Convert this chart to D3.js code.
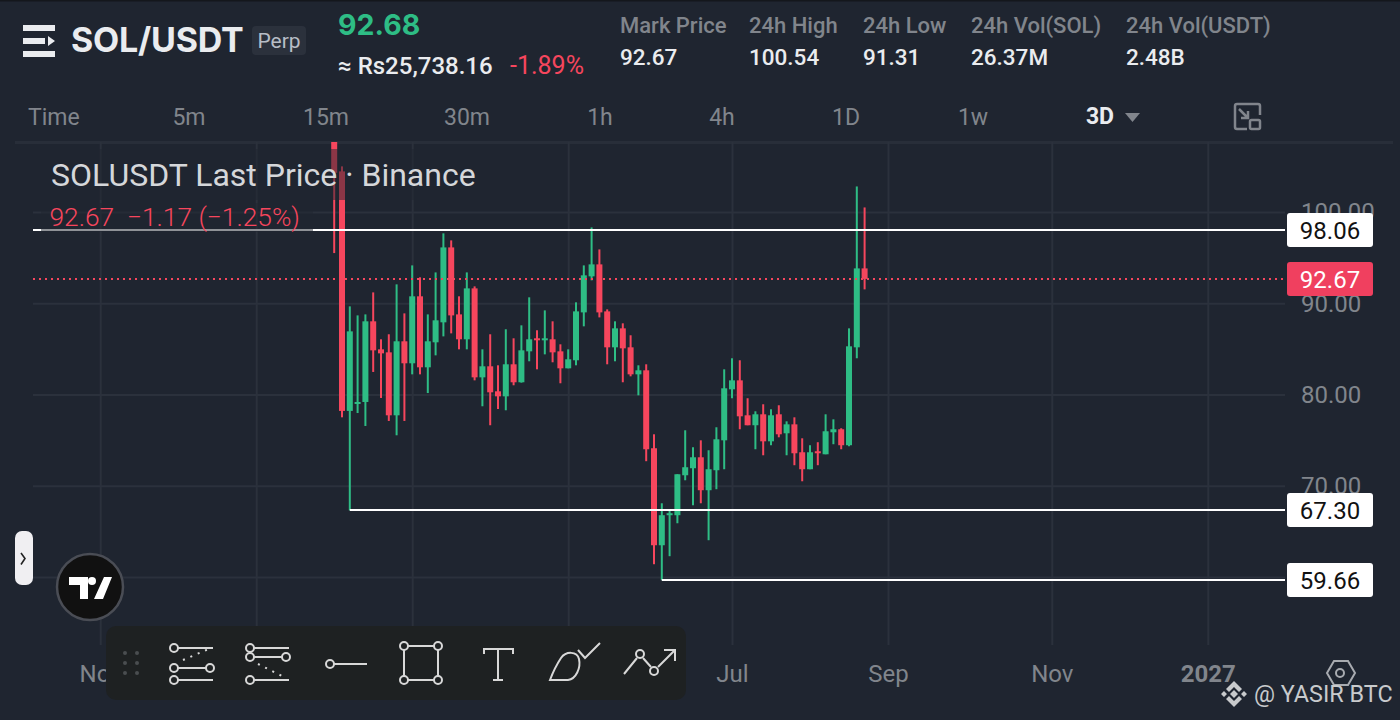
<!DOCTYPE html>
<html><head><meta charset="UTF-8"><title>SOL/USDT</title>
<script src="https://cdn.jsdelivr.net/npm/d3@7"></script>
<style>
	html,body { margin:0; padding:0; background:#1f2530; overflow:hidden; }
	svg { display:block; font-family:Roboto,"Noto Sans",sans-serif; }
	.grid line { stroke:#2b313c; stroke-width:2; }
	.grid path { display:none; }
	.yaxis text, .xaxis text { fill:#81858c; font-size:24px; font-family:Roboto,sans-serif; }
	.yaxis path, .yaxis line, .xaxis path, .xaxis line { display:none; }
</style>
</head><body>
<svg id="chart" width="1400" height="720"></svg>
<script>
// 3D candles. bar 0 is the first full candle, bar -1 runs off the top
var firstBar=-1;
var opens =[109,104.45,78.2,79.18,79.18,88.02,84.95,84.62,77.72,85.83,83.42,90.76,82.98,85.72,87.91,96.12,88.78,86.05,91.63,81.88,83.09,80.35,79.8,83.31,81.34,84.73,86.16,85.94,86.05,84.73,82.87,83.75,89.0,92.95,94.26,89.11,85.17,87.25,85.17,82.21,82.65,74.11,63.48,66.77,66.77,71.15,71.92,73.12,69.51,71.7,74.98,80.57,81.55,77.72,76.63,77.83,74.87,77.83,75.75,76.73,73.67,71.81,73.78,73.45,75.86,76.19,74.44,85.17,93.82];
var highs =[112,105.0,89.66,88.67,88.78,91.19,86.05,86.6,92.07,88.89,94.15,92.84,88.78,93.38,97.66,96.89,90.76,93.38,91.85,84.95,86.6,83.2,87.15,86.16,87.58,90.65,87.04,89.22,88.02,85.5,84.95,90.1,94.15,98.31,95.9,89.33,88.02,87.8,86.49,83.2,83.31,75.64,68.08,67.43,71.26,76.08,74.22,74.98,73.89,76.41,82.76,83.97,83.75,79.59,78.16,78.93,78.38,78.82,77.06,77.5,75.2,74.44,74.77,77.83,77.28,76.3,87.25,102.8,100.5];
var lows  =[95.5,77.5,67.3,77.97,76.55,82.47,79.62,77.1,75.53,77.1,82.21,82.21,80.16,84.29,86.37,86.7,84.95,84.95,81.55,78.71,76.63,78.41,78.27,81.01,81.3,83.64,82.76,84.4,83.53,81.23,82.87,83.2,87.47,92.51,88.45,83.31,83.64,81.34,81.99,79.91,72.69,61.4,59.66,62.28,65.89,70.6,67.86,68.08,64.03,69.62,71.81,79.59,76.19,76.63,74.0,73.34,74.44,75.31,73.34,72.25,70.49,71.81,72.25,73.45,74.55,74.0,74.33,83.97,91.52];
var closes=[104.3,78.2,86.92,79.18,88.02,84.84,84.51,77.72,85.83,83.42,90.76,82.98,85.83,88.13,96.12,88.67,86.05,91.63,81.88,83.09,80.24,79.8,83.31,81.34,84.84,86.05,85.94,86.16,84.62,82.87,83.86,89.11,93.06,94.26,89.0,85.17,87.25,85.06,82.21,82.65,74.0,63.48,66.77,66.99,71.26,72.03,73.12,69.51,71.81,75.09,80.68,81.55,77.61,76.63,77.83,74.87,77.72,75.64,76.73,73.56,71.81,73.67,73.56,75.97,76.19,74.44,85.28,93.82,92.67];

// axes
var priceTicks=[100,90,80,70,60];
var monthBars=[-31,-11,9,29,50,70,91,111];
var monthLabels=['Nov','2026','Mar','May','Jul','Sep','Nov','2027'];

// drawn levels and the last price tag
var levelValues=[98.06,67.30,59.66];
var levelStartBars=[-40,1,41];
var lastPrice=92.67;

// header
var statNames=['Mark Price','24h High','24h Low','24h Vol(SOL)','24h Vol(USDT)'];
var statValues=['92.67','100.54','91.31','26.37M','2.48B'];
var statLefts=[620,749,863,971,1126];
var tabNames=['5m','15m','30m','1h','4h','1D','1w'];
var tabCenters=[189,326,467,600,722,846,973];

var bg='#1f2530',green='#2ebd85',red='#f6465d',grey='#81858c';
var plotL=33,plotR=1285,plotT=142,plotB=645;

var svg=d3.select('#chart');
svg.append('rect').attr('width',1400).attr('height',720).attr('fill',bg);
svg.append('rect').attr('width',1400).attr('height',1.5).attr('fill','#14171c');

var x=d3.scaleLinear().domain([0,111]).range([342,1207.8]);
var y=d3.scaleLinear().domain([100,60]).range([212,577]);

function txt(parent,s,px,py,size,fill,weight,anchor,family){
	var t=parent.append('text').attr('x',px).attr('y',py).attr('font-size',size).attr('fill',fill).text(s);
	if(weight)t.attr('font-weight',weight);
	if(anchor)t.attr('text-anchor',anchor);
	if(family)t.attr('font-family',family);
	return t;
}

// header strip
var head=svg.append('g');
head.append('path').attr('fill','#eaecef').attr('d','M23 25h32v6h-32zM23 51h32v6h-32zM23 38h22v6h-22zM48 36l7 5l-7 5z');
txt(head,'SOL/USDT',71,52,34,'#eaecef',700,null,'Inter,Roboto,sans-serif').attr('letter-spacing',-0.2);
head.append('rect').attr('x',252).attr('y',26).attr('width',54).attr('height',29).attr('rx',4).attr('fill','#2b313c');
txt(head,'Perp',279,48,21,'#b7bdc6',400,'middle');
txt(head,'92.68',338,35,28.5,green,700,null,'Inter,Roboto,sans-serif');
txt(head,'≈ Rs25,738.16',338,74,24,'#eaecef',500);
txt(head,'-1.89%',510,74,25,red,400);
statNames.forEach(function(s,i){
	txt(head,s,statLefts[i],33,22,grey,500);
	txt(head,statValues[i],statLefts[i],65,22.5,'#eaecef',500);
});

// interval tabs
var tabs=svg.append('g');
txt(tabs,'Time',28,125,23,grey,400);
tabNames.forEach(function(s,i){ txt(tabs,s,tabCenters[i],125,23,grey,400,'middle'); });
txt(tabs,'3D',1100,124,23,'#eaecef',700,'middle');
tabs.append('path').attr('fill',grey).attr('d','M1125 113h15l-7.5 9z');
tabs.append('path').attr('fill','none').attr('stroke',grey).attr('stroke-width',2.5)
	.attr('d','M1245 104h-8a2 2 0 0 0 -2 2v21a2 2 0 0 0 2 2h10M1245 104h13a2 2 0 0 1 2 2v9M1239 109l9 9M1248 111v7h-7');
tabs.append('rect').attr('x',1250).attr('y',120).attr('width',10).attr('height',9).attr('rx',1.5).attr('fill','none').attr('stroke',grey).attr('stroke-width',2.5);
svg.append('rect').attr('x',15).attr('y',141).attr('width',1378).attr('height',3).attr('fill','#282e39');

// grid comes from the same axes as the labels
svg.append('g').attr('class','grid').attr('transform','translate(0,'+plotB+')')
	.call(d3.axisBottom(x).tickValues(monthBars).tickSize(-(plotB-plotT)).tickFormat(''));
svg.append('g').attr('class','grid').attr('transform','translate('+plotL+',0)')
	.call(d3.axisRight(y).tickValues(priceTicks).tickSize(plotR-plotL).tickFormat(''));

svg.append('clipPath').attr('id','plot').append('rect').attr('x',plotL).attr('y',plotT).attr('width',plotR-plotL).attr('height',plotB-plotT);

// candles
var bars=d3.range(opens.length);
var candles=svg.append('g').attr('clip-path','url(#plot)').selectAll('g').data(bars).enter().append('g')
	.attr('fill',function(i){return closes[i]>=opens[i]?green:red;});
candles.append('rect')
	.attr('x',function(i){return x(i+firstBar)-1;}).attr('width',2)
	.attr('y',function(i){return y(highs[i]);})
	.attr('height',function(i){return y(lows[i])-y(highs[i]);});
candles.append('rect')
	.attr('x',function(i){return x(i+firstBar)-3;}).attr('width',6)
	.attr('y',function(i){return y(Math.max(opens[i],closes[i]));})
	.attr('height',function(i){return Math.max(2,Math.abs(opens[i]-closes[i])*(y(0)-y(1)));});

// last price dots
svg.append('line').attr('x1',plotL).attr('x2',plotR).attr('y1',y(lastPrice)).attr('y2',y(lastPrice))
	.attr('stroke',red).attr('stroke-width',2).attr('stroke-dasharray','2 4');

// level lines
svg.append('g').selectAll('line').data(levelValues).enter().append('line')
	.attr('x1',function(d,i){return Math.max(plotL,x(levelStartBars[i]));}).attr('x2',plotR)
	.attr('y1',function(d){return Math.round(y(d));}).attr('y2',function(d){return Math.round(y(d));})
	.attr('stroke','#fff').attr('stroke-width',2);

// legend backing dims what is under it
svg.append('rect').attr('x',40).attr('y',149).attr('width',443).attr('height',51).attr('fill',bg).attr('opacity',.5);
svg.append('rect').attr('x',41).attr('y',203).attr('width',272).attr('height',29).attr('fill',bg).attr('opacity',.5);
txt(svg,'SOLUSDT Last Price · Binance',51,186,32,'#d5d7da',400);
txt(svg,'92.67  −1.17 (−1.25%)',49.5,226,26.3,red,300).style('white-space','pre');

// axis labels
svg.append('g').attr('class','yaxis').attr('transform','translate(1293,0)')
	.call(d3.axisRight(y).tickValues(priceTicks).tickSize(0).tickPadding(8).tickFormat(d3.format('.2f')))
	.selectAll('text').attr('dy','.33em');
svg.append('g').attr('class','xaxis').attr('transform','translate(0,665)')
	.call(d3.axisBottom(x).tickValues(monthBars).tickSize(0).tickPadding(0)
		.tickFormat(function(d,i){return monthLabels[i];}))
	.selectAll('text').attr('dy','.71em').attr('font-weight',function(d,i){return monthLabels[i]=='2027'?700:null;});

// price tags
var tagData=levelValues.concat([lastPrice]);
var tags=svg.append('g').selectAll('g').data(tagData).enter().append('g')
	.attr('transform',function(d){return 'translate(1287,'+Math.round(y(d))+')';});
tags.append('rect').attr('y',-17).attr('width',86).attr('height',34).attr('rx',3)
	.attr('fill',function(d){return d==lastPrice?'#f0405f':'#fff';});
tags.append('text').attr('x',43).attr('dy','.36em').attr('text-anchor','middle').attr('font-size',24)
	.attr('fill',function(d){return d==lastPrice?'#fff':'#111';}).text(d3.format('.2f'));

// side handle and tv logo
svg.append('rect').attr('x',15).attr('y',531).attr('width',18).attr('height',54).attr('rx',7).attr('fill','#f0eff2');
svg.append('path').attr('d','M21 553l4 5.5l-4 6').attr('fill','none').attr('stroke','#222').attr('stroke-width',1.6);
svg.append('circle').attr('cx',90).attr('cy',587).attr('r',33).attr('fill','#111').attr('stroke','#4a4d55').attr('stroke-width',2.5);
svg.append('path').attr('fill','#fff').attr('d','M69 577h19v22h-8v-14h-11zM104 577h8l-9 22h-9z');
svg.append('circle').attr('cx',92).attr('cy',581).attr('r',4).attr('fill','#fff');

// drawing toolbar
var tb=svg.append('g');
tb.append('rect').attr('x',106).attr('y',626).attr('width',580).attr('height',74).attr('rx',10).attr('fill','#1e2122');
[125,137].forEach(function(cx){ [653,663,673].forEach(function(cy){
	tb.append('circle').attr('cx',cx).attr('cy',cy).attr('r',2).attr('fill','#4a4d50');
});});
var icon=tb.append('g').attr('fill','none').attr('stroke','#d8d8d8').attr('stroke-width',2);
function ring(cx,cy,r){ icon.append('circle').attr('cx',cx).attr('cy',cy).attr('r',r||4); }
function seg(d,dash){ var p=icon.append('path').attr('d',d); if(dash)p.attr('stroke-dasharray','2 6'); }
ring(174,648);ring(174,668);ring(210,668);ring(174,680);
seg('M178 648h35M178 668h28M178 680h35');seg('M183 660l28 -12',true);
ring(250,648);ring(250,657);ring(286,657);ring(250,680);
seg('M254 648h35M254 657h28M254 680h35');seg('M258 664l28 14',true);
ring(330,664);seg('M334 664h33');
ring(404,646);ring(438,646);ring(404,680);ring(438,680);
seg('M408 646h26M408 680h26M404 650v26M438 650v26');
seg('M484 654v-5h29v5M498 649v31M493 680h10');
seg('M550 680c3 -8 7 -16 11 -22c5 -7 16 -7 18 1c2 9 -3 20 -11 21zM578 650l7 8l15 -15');
ring(640,654);ring(654,671);
seg('M624 674l13 -16M643 658l8 9M658 667l17 -17M664 650h11v11');

// settings and watermark
svg.append('path').attr('fill','none').attr('stroke','#a8abb0').attr('stroke-width',2).attr('d','M1327 673l7 -12h14l7 12l-7 12h-14z');
svg.append('circle').attr('cx',1340).attr('cy',673).attr('r',4).attr('fill','none').attr('stroke','#a8abb0').attr('stroke-width',2);
svg.append('path').attr('fill','#c8cacc')
	.attr('d','M1234 681l8 8l-3 3l-5 -5l-5 5l-3 -3zM1234 707l8 -8l-3 -3l-5 5l-5 -5l-3 3zM1234 690l4 4l-4 4l-4 -4zM1224 691l3 3l-3 3l-3 -3zM1244 691l3 3l-3 3l-3 -3z');
txt(svg,'@ YASIR BTC',1254,702,23.4,'#c8cacc',400);
</script>
</body></html>
